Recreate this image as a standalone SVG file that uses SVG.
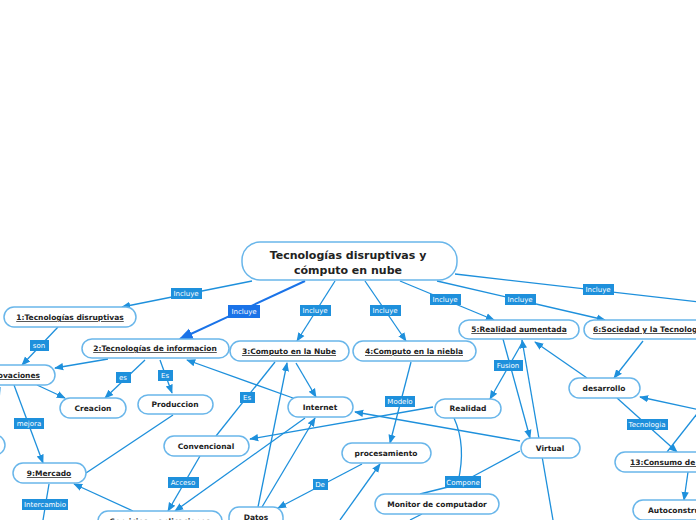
<svg xmlns="http://www.w3.org/2000/svg" width="696" height="520" viewBox="0 0 696 520">
<style>
.n rect{fill:#fff;stroke:#69b6ea;stroke-width:1.5}
.n text{font-family:"DejaVu Sans",Verdana,sans-serif;font-size:7.5px;font-weight:bold;fill:#222;text-anchor:middle}
.u{text-decoration:underline}
.e line,.e path{stroke:#1e90dc;stroke-width:1.3;fill:none;marker-end:url(#a)}
.e .p{marker-end:none}
.l rect{fill:#1e90dc}
.l text{font-family:"DejaVu Sans",Verdana,sans-serif;font-size:7px;fill:#fff;text-anchor:middle}
</style>
<defs><marker id="a" viewBox="0 0 10 10" refX="9" refY="5" markerWidth="7" markerHeight="7" orient="auto"><path d="M0,1L10,5L0,9z" fill="#1e90dc"/></marker>
<marker id="b" viewBox="0 0 10 10" refX="9" refY="5" markerWidth="7" markerHeight="7" orient="auto"><path d="M0,1L10,5L0,9z" fill="#1a73e8"/></marker></defs>
<rect width="696" height="520" fill="#fff"/>
<g id="connectors" class="e">
<line x1="252" y1="281" x2="122" y2="307"/>
<line x1="305" y1="281" x2="180" y2="339" style="stroke:#1a73e8;stroke-width:2;marker-end:url(#b)"/>
<line x1="335" y1="281" x2="297" y2="341"/>
<line x1="365" y1="281" x2="406" y2="341"/>
<line x1="400" y1="281" x2="494" y2="320"/>
<line x1="437" y1="281" x2="605" y2="320"/>
<line class="p" x1="455" y1="274" x2="700" y2="302"/>
<line x1="58" y1="327" x2="22" y2="365"/>
<line x1="108" y1="359" x2="55" y2="368"/>
<line x1="145" y1="360" x2="105" y2="398"/>
<line x1="160" y1="360" x2="172" y2="393"/>
<line x1="37" y1="385" x2="65" y2="398"/>
<line x1="14" y1="385" x2="43" y2="463"/>
<line class="p" x1="0" y1="387" x2="-4" y2="440"/>
<line x1="293" y1="398" x2="187" y2="360"/>
<line x1="296" y1="363" x2="316" y2="397"/>
<line class="p" x1="216" y1="436" x2="275" y2="362"/>
<line x1="433" y1="407" x2="250" y2="439"/>
<line x1="520" y1="441" x2="355" y2="412"/>
<line x1="305" y1="418" x2="175" y2="511"/>
<line x1="200" y1="456" x2="168" y2="511"/>
<line class="p" x1="173" y1="415" x2="86" y2="473"/>
<line x1="133" y1="511" x2="74" y2="484"/>
<line class="p" x1="49" y1="484" x2="43" y2="520"/>
<line x1="258" y1="507" x2="287" y2="363"/>
<line x1="262" y1="507" x2="315" y2="418"/>
<line x1="362" y1="464" x2="278" y2="508"/>
<line x1="340" y1="520" x2="380" y2="464"/>
<line x1="411" y1="362" x2="390" y2="443"/>
<line x1="522" y1="343" x2="490" y2="399"/>
<line x1="503" y1="339" x2="530" y2="438"/>
<line x1="553" y1="520" x2="522" y2="340"/>
<path class="p" d="M454,418 C464,440 462,465 458,482"/>
<line class="p" x1="520" y1="451" x2="470" y2="478"/>
<line class="p" x1="448" y1="487" x2="420" y2="494"/>
<line class="p" x1="422" y1="514" x2="410" y2="520"/>
<line x1="587" y1="378" x2="535" y2="342"/>
<line x1="643" y1="341" x2="614" y2="378"/>
<line x1="617" y1="398" x2="677" y2="452"/>
<line x1="700" y1="410" x2="640" y2="397"/>
<line class="p" x1="667" y1="452" x2="700" y2="410"/>
<line x1="688" y1="472" x2="684" y2="500"/>
</g>
<g class="l">
<rect x="171" y="288" width="31" height="11"/><text x="186" y="296">Incluye</text>
<rect x="228" y="305" width="32" height="13" style="fill:#1a73e8"/><text x="244" y="314">Incluye</text>
<rect x="300" y="305" width="31" height="11"/><text x="315" y="313">Incluye</text>
<rect x="370" y="305" width="31" height="11"/><text x="385" y="313">Incluye</text>
<rect x="430" y="294" width="31" height="11"/><text x="445" y="302">Incluye</text>
<rect x="505" y="294" width="31" height="11"/><text x="520" y="302">Incluye</text>
<rect x="583" y="284" width="31" height="11"/><text x="598" y="292">Incluye</text>
<rect x="30" y="340" width="19" height="11"/><text x="39" y="348">son</text>
<rect x="116" y="372" width="15" height="11"/><text x="123" y="380">es</text>
<rect x="158" y="370" width="15" height="11"/><text x="165" y="378">Es</text>
<rect x="14" y="418" width="30" height="11"/><text x="29" y="426">mejora</text>
<rect x="240" y="392" width="15" height="11"/><text x="247" y="400">Es</text>
<rect x="168" y="477" width="31" height="11"/><text x="183" y="485">Acceso</text>
<rect x="22" y="499" width="46" height="11"/><text x="45" y="507">Intercambio</text>
<rect x="313" y="479" width="15" height="11"/><text x="320" y="487">De</text>
<rect x="385" y="396" width="30" height="11"/><text x="400" y="404">Modelo</text>
<rect x="494" y="360" width="29" height="11"/><text x="508" y="368">Fusion</text>
<rect x="445" y="476" width="36" height="12"/><text x="463" y="485">Compone</text>
<rect x="627" y="419" width="41" height="11"/><text x="647" y="427">Tecnologia</text>
</g>
<g id="root" class="n"><rect x="242" y="242" width="215" height="38" rx="18"/><text x="348" y="259" style="font-size:11px">Tecnologías disruptivas y</text><text x="348" y="274" style="font-size:11px">cómputo en nube</text></g>
<g id="n1" class="n"><rect x="4" y="307" width="132" height="20" rx="10"/><text class="u" x="70" y="320">1:Tecnologías disruptivas</text></g>
<g id="n2" class="n"><rect x="82" y="339" width="147" height="19" rx="10"/><text class="u" x="155" y="351">2:Tecnologías de informacion</text></g>
<g id="n3" class="n"><rect x="230" y="341" width="119" height="20" rx="10"/><text class="u" x="289" y="354">3:Computo en la Nube</text></g>
<g id="n4" class="n"><rect x="353" y="341" width="123" height="20" rx="10"/><text class="u" x="414" y="354">4:Computo en la niebla</text></g>
<g id="n5" class="n"><rect x="459" y="320" width="120" height="19" rx="10"/><text class="u" x="519" y="332">5:Realidad aumentada</text></g>
<g id="n6" class="n"><rect x="584" y="320" width="130" height="19" rx="10"/><text class="u" x="649" y="332">6:Sociedad y la Tecnologia</text></g>
<g id="innov" class="n"><rect x="-20" y="365" width="75" height="20" rx="10"/><text class="u" x="40" y="378" style="text-anchor:end">Innovaciones</text></g>
<g id="left" class="n"><rect x="-20" y="435" width="25" height="20" rx="10"/></g>
<g id="creacion" class="n"><rect x="60" y="398" width="66" height="20" rx="10"/><text x="93" y="411">Creacion</text></g>
<g id="produccion" class="n"><rect x="138" y="395" width="75" height="19" rx="10"/><text x="175" y="407">Produccion</text></g>
<g id="internet" class="n"><rect x="288" y="397" width="65" height="20" rx="10"/><text x="320" y="410">Internet</text></g>
<g id="convencional" class="n"><rect x="164" y="436" width="85" height="20" rx="10"/><text x="206" y="449">Convencional</text></g>
<g id="realidad" class="n"><rect x="435" y="399" width="66" height="19" rx="10"/><text x="468" y="411">Realidad</text></g>
<g id="virtual" class="n"><rect x="521" y="438" width="59" height="20" rx="10"/><text x="550" y="451">Virtual</text></g>
<g id="desarrollo" class="n"><rect x="569" y="378" width="71" height="20" rx="10"/><text x="604" y="391">desarrollo</text></g>
<g id="procesamiento" class="n"><rect x="342" y="443" width="89" height="20" rx="10"/><text x="386" y="456">procesamiento</text></g>
<g id="n9" class="n"><rect x="13" y="463" width="73" height="20" rx="10"/><text class="u" x="49" y="476">9:Mercado</text></g>
<g id="servicios" class="n"><rect x="98" y="511" width="124" height="20" rx="10"/><text x="160" y="524">Servicios y aplicaciones</text></g>
<g id="datos" class="n"><rect x="229" y="507" width="54" height="23" rx="10"/><text x="256" y="520">Datos</text></g>
<g id="monitor" class="n"><rect x="375" y="494" width="124" height="20" rx="10"/><text x="437" y="507">Monitor de computador</text></g>
<g id="n13" class="n"><rect x="615" y="452" width="110" height="20" rx="10"/><text class="u" x="630" y="465" style="text-anchor:start">13:Consumo de la Tecnologia</text></g>
<g id="auto" class="n"><rect x="633" y="500" width="100" height="20" rx="10"/><text x="648" y="513" style="text-anchor:start">Autoconstruccion</text></g>
</svg>
